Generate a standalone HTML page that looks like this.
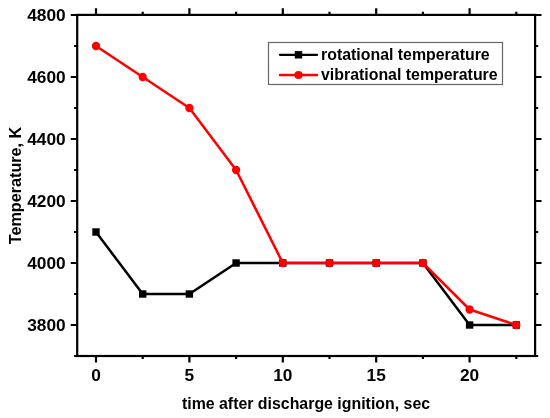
<!DOCTYPE html><html><head><meta charset="utf-8"><style>html,body{margin:0;padding:0;background:#fff;width:550px;height:418px;overflow:hidden}svg{display:block}</style></head><body><svg width="550" height="418" viewBox="0 0 550 418">
<rect width="550" height="418" fill="#fff"/>
<path d="M96.00 356.00v6.60 M96.00 14.90v-6.60 M142.70 356.00v3.10 M142.70 14.90v-3.10 M189.40 356.00v6.60 M189.40 14.90v-6.60 M236.10 356.00v3.10 M236.10 14.90v-3.10 M282.80 356.00v6.60 M282.80 14.90v-6.60 M329.50 356.00v3.10 M329.50 14.90v-3.10 M376.20 356.00v6.60 M376.20 14.90v-6.60 M422.90 356.00v3.10 M422.90 14.90v-3.10 M469.60 356.00v6.60 M469.60 14.90v-6.60 M516.30 356.00v3.10 M516.30 14.90v-3.10 M77.20 356.00h-3.10 M535.10 356.00h3.10 M77.20 325.00h-6.40 M535.10 325.00h6.40 M77.20 294.00h-3.10 M535.10 294.00h3.10 M77.20 263.00h-6.40 M535.10 263.00h6.40 M77.20 232.00h-3.10 M535.10 232.00h3.10 M77.20 201.00h-6.40 M535.10 201.00h6.40 M77.20 170.00h-3.10 M535.10 170.00h3.10 M77.20 139.00h-6.40 M535.10 139.00h6.40 M77.20 108.00h-3.10 M535.10 108.00h3.10 M77.20 77.00h-6.40 M535.10 77.00h6.40 M77.20 46.00h-3.10 M535.10 46.00h3.10 M77.20 15.00h-6.40 M535.10 15.00h6.40" stroke="#000" stroke-width="2.2" fill="none"/>
<rect x="77.2" y="14.9" width="457.90000000000003" height="341.1" fill="none" stroke="#000" stroke-width="2.2"/>
<polyline points="96.00,232.00 142.70,294.00 189.40,294.00 236.10,263.00 282.80,263.00 329.50,263.00 376.20,263.00 422.90,263.00 469.60,325.00 516.30,325.00" fill="none" stroke="#000" stroke-width="2.5" stroke-linejoin="round"/>
<rect x="92.30" y="228.30" width="7.4" height="7.4" fill="#000"/>
<rect x="139.00" y="290.30" width="7.4" height="7.4" fill="#000"/>
<rect x="185.70" y="290.30" width="7.4" height="7.4" fill="#000"/>
<rect x="232.40" y="259.30" width="7.4" height="7.4" fill="#000"/>
<rect x="279.10" y="259.30" width="7.4" height="7.4" fill="#000"/>
<rect x="325.80" y="259.30" width="7.4" height="7.4" fill="#000"/>
<rect x="372.50" y="259.30" width="7.4" height="7.4" fill="#000"/>
<rect x="419.20" y="259.30" width="7.4" height="7.4" fill="#000"/>
<rect x="465.90" y="321.30" width="7.4" height="7.4" fill="#000"/>
<rect x="512.60" y="321.30" width="7.4" height="7.4" fill="#000"/>
<polyline points="96.00,46.00 142.70,77.00 189.40,108.00 236.10,170.00 282.80,263.00 329.50,263.00 376.20,263.00 422.90,263.00 469.60,309.50 516.30,325.00" fill="none" stroke="#f00" stroke-width="2.5" stroke-linejoin="round"/>
<circle cx="96.00" cy="46.00" r="4.15" fill="#f00"/>
<circle cx="142.70" cy="77.00" r="4.15" fill="#f00"/>
<circle cx="189.40" cy="108.00" r="4.15" fill="#f00"/>
<circle cx="236.10" cy="170.00" r="4.15" fill="#f00"/>
<circle cx="282.80" cy="263.00" r="4.15" fill="#f00"/>
<circle cx="329.50" cy="263.00" r="4.15" fill="#f00"/>
<circle cx="376.20" cy="263.00" r="4.15" fill="#f00"/>
<circle cx="422.90" cy="263.00" r="4.15" fill="#f00"/>
<circle cx="469.60" cy="309.50" r="4.15" fill="#f00"/>
<circle cx="516.30" cy="325.00" r="4.15" fill="#f00"/>
<g font-family="Liberation Sans, Arial, sans-serif" font-weight="bold" font-size="17.3" fill="#000">
<text x="96.00" y="381" text-anchor="middle">0</text>
<text x="189.40" y="381" text-anchor="middle">5</text>
<text x="282.80" y="381" text-anchor="middle">10</text>
<text x="376.20" y="381" text-anchor="middle">15</text>
<text x="469.60" y="381" text-anchor="middle">20</text>
<text x="65.7" y="330.50" text-anchor="end">3800</text>
<text x="65.7" y="268.50" text-anchor="end">4000</text>
<text x="65.7" y="206.50" text-anchor="end">4200</text>
<text x="65.7" y="144.50" text-anchor="end">4400</text>
<text x="65.7" y="82.50" text-anchor="end">4600</text>
<text x="65.7" y="20.50" text-anchor="end">4800</text>
</g>
<text x="306" y="409" text-anchor="middle" font-family="Liberation Sans, Arial, sans-serif" font-weight="bold" font-size="15.9">time after discharge ignition, sec</text>
<text transform="translate(20.5 185.5) rotate(-90)" text-anchor="middle" font-family="Liberation Sans, Arial, sans-serif" font-weight="bold" font-size="16.2">Temperature, K</text>
<rect x="268.5" y="42.5" width="234" height="42" fill="#fff" stroke="#666" stroke-width="1.2"/>
<path d="M280 54.8H317" stroke="#000" stroke-width="2.3" stroke-linecap="round"/>
<rect x="294.8" y="51.1" width="7.4" height="7.4" fill="#000"/>
<path d="M280 74.9H317" stroke="#f00" stroke-width="2.5" stroke-linecap="round"/>
<circle cx="298.5" cy="75" r="4.1" fill="#f00"/>
<g font-family="Liberation Sans, Arial, sans-serif" font-weight="bold" font-size="15.9">
<text x="321" y="60">rotational temperature</text>
<text x="321" y="80">vibrational temperature</text>
</g>
</svg></body></html>
